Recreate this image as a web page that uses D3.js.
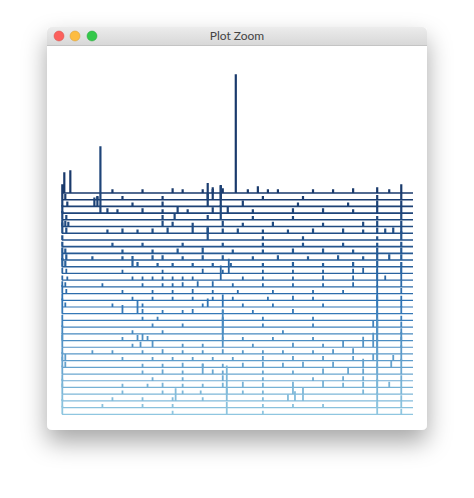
<!DOCTYPE html>
<html><head><meta charset="utf-8">
<script src="https://cdn.jsdelivr.net/npm/d3@7/dist/d3.min.js"></script>
<style>body{margin:0;background:#fff}svg{display:block}</style></head>
<body><svg id="c" width="474" height="498"></svg>
<script>
const title = "Plot Zoom";
// spikes per row: [x position (0..350), height]
const rows = [
 [[0,8],[2,20],[8,22],[50,3],[80,3],[110,4],[120,3],[140,3],[150,5],[160,4],[173,118],[185,3],[195,6],[205,3],[215,3],[250,3],[270,3],[290,4],[314,5],[326,3],[338,8]],
 [[0,6],[3,5],[35,3],[60,3],[100,3],[145,16],[150,10],[158,14],[200,3],[240,3],[314,4],[338,6]],
 [[0,6],[5,4],[32,8],[35,9],[70,3],[100,4],[145,12],[158,20],[180,5],[235,3],[285,3],[314,5],[338,5]],
 [[0,7],[38,66],[45,4],[55,3],[80,4],[100,3],[115,6],[125,3],[150,5],[165,6],[190,3],[230,4],[260,4],[290,3],[314,6],[338,6]],
 [[0,8],[4,4],[100,4],[112,5],[145,4],[158,14],[190,3],[230,3],[314,3],[338,5]],
 [[0,6],[3,5],[6,4],[100,5],[110,4],[130,3],[160,5],[180,3],[210,4],[260,3],[300,4],[314,5],[338,5]],
 [[0,10],[4,5],[45,3],[60,4],[75,3],[90,4],[105,5],[130,6],[145,5],[160,4],[175,4],[200,3],[225,3],[250,4],[280,4],[300,3],[314,5],[322,4],[330,5],[338,6]],
 [[0,4],[145,12],[200,3],[240,3],[314,3],[338,8]],
 [[0,4],[50,3],[80,3],[120,3],[160,3],[200,3],[240,3],[280,3],[314,3],[338,4]],
 [[0,5],[3,4],[60,3],[90,3],[115,4],[140,5],[170,3],[200,3],[230,4],[260,4],[290,3],[314,5],[338,5]],
 [[0,6],[4,5],[30,3],[60,3],[90,4],[100,4],[120,3],[140,4],[160,4],[190,3],[215,4],[245,3],[275,4],[300,3],[314,6],[326,5],[338,5]],
 [[0,8],[3,5],[70,10],[75,4],[95,3],[110,3],[130,3],[150,3],[168,3],[200,3],[230,4],[260,3],[290,4],[314,5],[338,4]],
 [[0,5],[4,4],[60,3],[100,3],[140,4],[160,3],[166,14],[200,3],[230,3],[260,3],[290,4],[300,5],[314,4],[338,6]],
 [[0,4],[5,3],[70,3],[80,3],[90,3],[100,3],[110,3],[120,3],[130,3],[158,14],[180,3],[200,3],[230,3],[260,4],[290,4],[314,14],[322,4],[338,12]],
 [[0,5],[3,4],[40,3],[80,3],[100,3],[110,3],[120,4],[135,5],[150,5],[170,3],[200,3],[230,3],[260,3],[290,4],[314,12],[338,6]],
 [[0,8],[4,4],[60,3],[90,3],[110,3],[130,4],[150,3],[175,3],[210,3],[250,3],[280,3],[314,8],[338,5]],
 [[0,6],[70,3],[90,3],[110,3],[130,3],[150,3],[170,3],[205,3],[230,4],[250,3],[314,6],[338,4]],
 [[0,8],[3,4],[50,3],[80,3],[140,3],[145,8],[160,12],[180,3],[210,3],[260,3],[314,10],[338,6]],
 [[0,6],[60,8],[75,12],[80,4],[100,3],[120,3],[130,4],[160,3],[190,3],[230,4],[314,18],[338,7]],
 [[0,5],[80,3],[95,3],[160,3],[200,3],[250,3],[314,10],[338,4]],
 [[0,6],[90,3],[120,3],[160,8],[200,3],[250,3],[310,6],[314,14],[338,5]],
 [[0,8],[70,3],[100,3],[160,24],[220,3],[314,12],[338,5]],
 [[0,7],[60,3],[75,5],[80,6],[85,4],[160,14],[180,3],[210,3],[250,3],[314,22],[338,8]],
 [[0,12],[70,3],[78,5],[90,6],[120,3],[140,3],[160,10],[190,3],[230,4],[260,3],[280,6],[300,10],[310,14],[314,26],[338,10]],
 [[0,6],[30,3],[50,3],[80,3],[100,4],[120,3],[140,3],[160,4],[180,3],[200,3],[220,3],[250,3],[270,4],[290,5],[314,14],[338,8]],
 [[0,8],[3,6],[60,3],[90,3],[110,3],[130,3],[150,3],[170,3],[200,4],[230,4],[260,4],[290,4],[310,6],[314,12],[330,5],[338,6]],
 [[0,10],[3,5],[80,3],[100,3],[120,4],[140,3],[160,3],[180,4],[200,5],[220,4],[240,5],[270,5],[300,8],[314,16],[328,6],[338,8]],
 [[0,8],[80,3],[100,4],[120,3],[140,10],[150,4],[160,3],[200,3],[230,3],[260,5],[285,6],[300,5],[314,10],[338,6]],
 [[0,6],[90,3],[120,3],[160,5],[200,3],[250,3],[280,4],[300,4],[314,12],[338,5]],
 [[0,8],[60,3],[85,3],[100,4],[120,3],[140,3],[160,4],[180,5],[200,4],[230,5],[260,6],[280,4],[300,5],[314,8],[326,5],[338,6]],
 [[0,10],[60,3],[100,3],[120,3],[138,3],[164,28],[180,3],[200,3],[230,8],[240,6],[300,4],[314,14],[338,6]],
 [[0,6],[50,3],[80,3],[110,3],[113,12],[140,3],[164,12],[200,3],[225,6],[232,9],[240,6],[314,8],[338,5]],
 [[0,8],[40,3],[80,3],[110,3],[164,5],[200,3],[230,3],[260,3],[314,6],[338,6]],
 [[0,8],[110,3],[164,6],[200,3],[314,12],[338,5]]
];
const svg = d3.select("#c");
const defs = svg.append("defs");
const f = defs.append("filter").attr("id","sh").attr("x","-20%").attr("y","-20%").attr("width","140%").attr("height","150%");
f.append("feDropShadow").attr("dx",0).attr("dy",12).attr("stdDeviation",12).attr("flood-color","#000").attr("flood-opacity",0.35);
const g1 = defs.append("linearGradient").attr("id","tb").attr("x1",0).attr("x2",0).attr("y1",0).attr("y2",1);
g1.append("stop").attr("offset",0).attr("stop-color","#ececec");
g1.append("stop").attr("offset",1).attr("stop-color","#d8d8d8");
svg.append("rect").attr("x",47).attr("y",27).attr("width",380).attr("height",403).attr("rx",5).attr("fill","#fff").attr("filter","url(#sh)");
svg.append("path").attr("d","M47,45 V32 a5,5 0 0 1 5,-5 H422 a5,5 0 0 1 5,5 V45 Z").attr("fill","url(#tb)");
svg.append("line").attr("x1",47).attr("x2",427).attr("y1",45.5).attr("y2",45.5).attr("stroke","#c4c4c4");
[["#fc605c",59],["#fdbc40",75],["#34c84a",92]].forEach(([c,x])=>svg.append("circle").attr("cx",x).attr("cy",36).attr("r",5).attr("fill",c).attr("stroke",d3.color(c).darker(0.5)).attr("stroke-width",0.5));
svg.append("text").attr("x",237).attr("y",40).attr("text-anchor","middle").attr("font-family","Lato, 'Open Sans', sans-serif").attr("font-size",12).attr("fill","#444").text(title);

const x = d3.scaleLinear().domain([0,350]).range([62,413]);
const band = d3.scaleBand().domain(d3.range(rows.length)).range([193,421]);
const col = d3.scaleLinear().domain([0,rows.length/2,rows.length-1]).range(["#1a3a6c","#2f74b5","#8fc6e0"]);
const line = d3.line().x(d=>x(d[0])).y(d=>d[1]);
rows.forEach((r,i)=>{
  const y0 = band(i);
  const pts=[[0,y0]];
  r.slice().sort((a,b)=>a[0]-b[0]).forEach(([px,h])=>{pts.push([px,y0],[px,y0-h],[px+0.6,y0-h],[px+0.6,y0]);});
  pts.push([350,y0]);
  svg.append("path").attr("d",line(pts)).attr("fill","none").attr("stroke",col(i)).attr("stroke-width",i<12?1.6:1.2);
});
</script></body></html>
